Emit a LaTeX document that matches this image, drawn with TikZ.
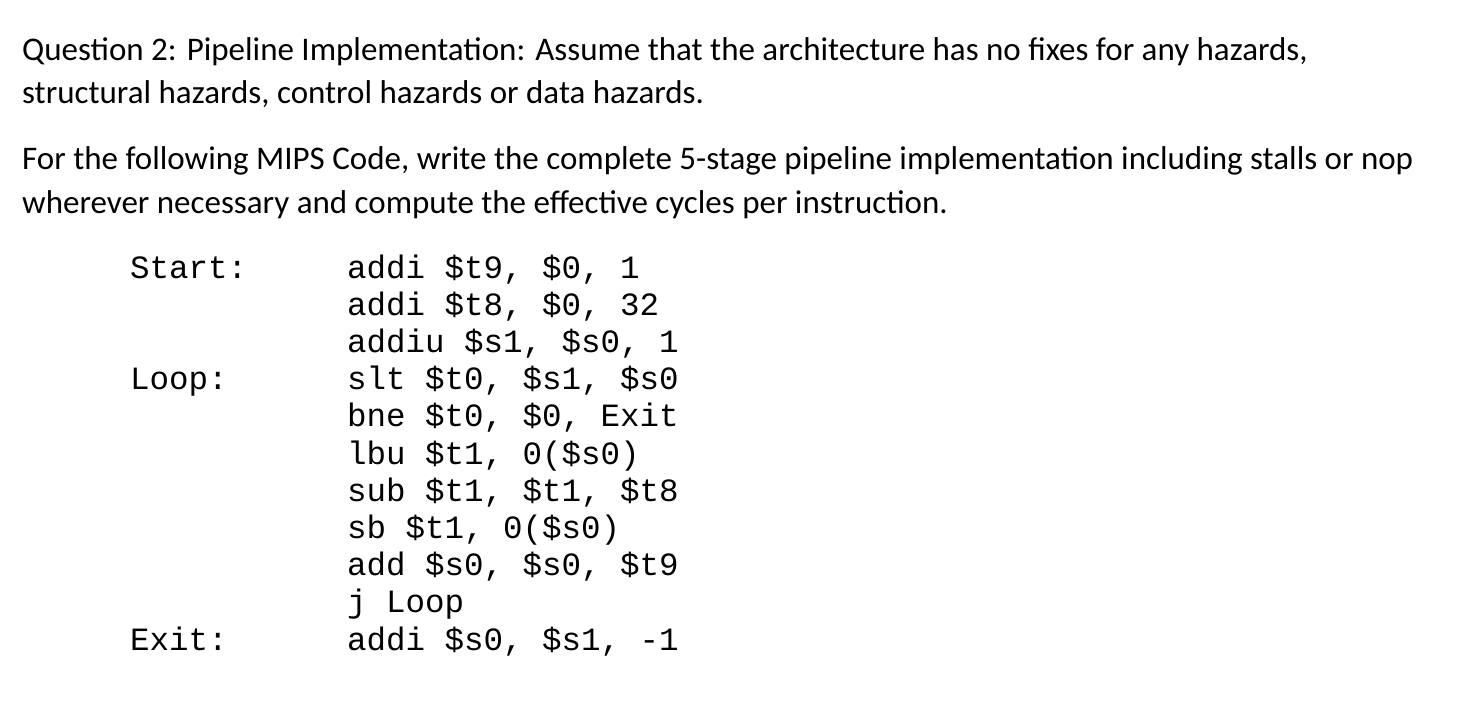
\documentclass[tikz,border=0pt]{standalone}
\usepackage{fontspec}
\setmainfont{Carlito}
\setmonofont{Liberation Mono}
\begin{document}
\begin{tikzpicture}
    [
      x=1pt, y=-1pt,
      prose/.style={anchor=base west, inner sep=0pt, font=\fontsize{33}{40}\selectfont},
      code/.style={anchor=base west, inner sep=0pt, font=\ttfamily\fontsize{32.5}{37}\selectfont},
    ]
    %
    \useasboundingbox (0, 0) rectangle (1476, 706);

    % question text
    \node [prose] (q1) at (22, 61)  {Question 2: Pipeline Implementation: Assume that the architecture has no fixes for any hazards,};
    \node [prose] (q2) at (22, 104) {structural hazards, control hazards or data hazards.};
    \node [prose] (q3) at (22, 170) {For the following MIPS Code, write the complete 5-stage pipeline implementation including stalls or nop};
    \node [prose] (q4) at (22, 213) {wherever necessary and compute the effective cycles per instruction.};

    % labels
    \node [code] (start) at (130, 278) {Start:};
    \node [code] (loop)  at (130, 389) {Loop:};
    \node [code] (exit)  at (130, 650) {Exit:};

    % instructions
    \foreach \i/\txt in {0/{addi \$t9, \$0, 1}, 1/{addi \$t8, \$0, 32}, 2/{addiu \$s1, \$s0, 1},
                         3/{slt \$t0, \$s1, \$s0}, 4/{bne \$t0, \$0, Exit}, 5/{lbu \$t1, 0(\$s0)},
                         6/{sub \$t1, \$t1, \$t8}, 7/{sb \$t1, 0(\$s0)}, 8/{add \$s0, \$s0, \$t9},
                         9/{j Loop}, 10/{addi \$s0, \$s1, -1}} {
      \node [code] (ins\i) at (347, 278 + 37.2*\i) {\txt};
    }
  \end{tikzpicture}
\end{document}
